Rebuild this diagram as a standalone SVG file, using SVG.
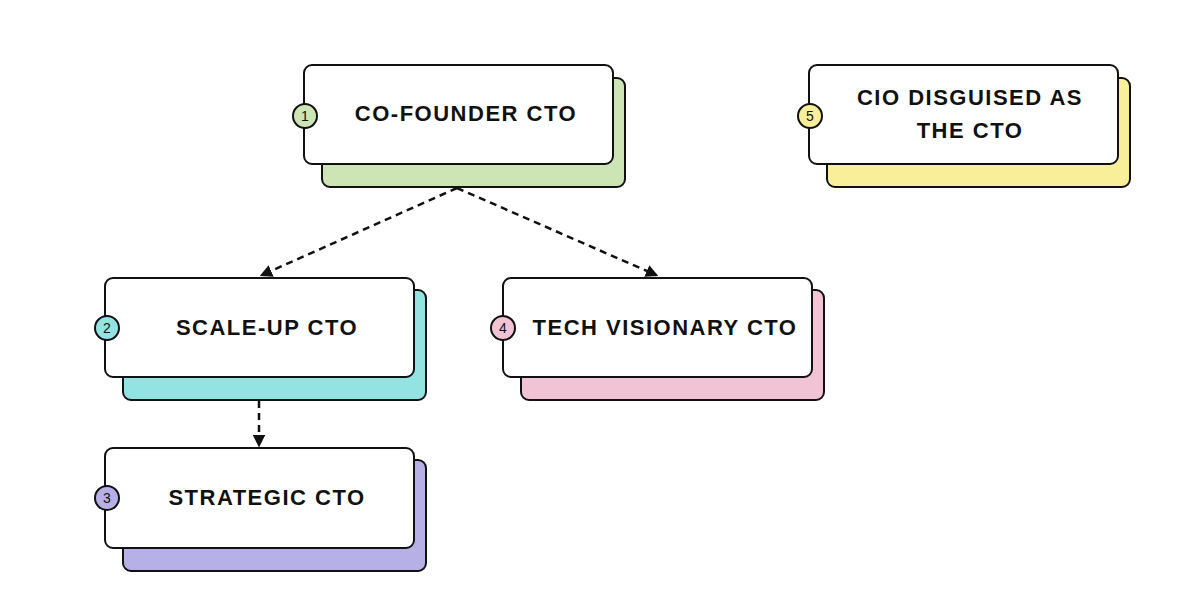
<svg xmlns="http://www.w3.org/2000/svg" width="1200" height="600" viewBox="0 0 1200 600">
<style>
.f{fill:#fff;stroke:#111;stroke-width:2}
.b{stroke:#111;stroke-width:2}
.t{font-family:"Liberation Sans",Arial,sans-serif;font-weight:bold;font-size:22px;letter-spacing:1.5px;fill:#111;text-anchor:middle}
.n{font-family:"Liberation Sans",Arial,sans-serif;font-size:14px;fill:#111;text-anchor:middle}
.c{fill:none;stroke:#111;stroke-width:2.5;stroke-dasharray:7,5}
</style>
<defs><marker id="a" viewBox="0 0 10 10" refX="8" refY="5" markerWidth="5" markerHeight="5" orient="auto"><path d="M0,0L10,5L0,10z" fill="#111"/></marker></defs>
<rect width="1200" height="600" fill="#fff"/>
<g id="connectors">
<path class="c" d="M457,188L262,275" marker-end="url(#a)"/>
<path class="c" d="M457,188L656,275" marker-end="url(#a)"/>
<path class="c" d="M259,401L259,445" marker-end="url(#a)"/>
</g>
<g id="n1"><rect class="b" x="322" y="78" width="303" height="109" rx="8" fill="#cde5b5"/><rect class="f" x="304" y="65" width="309" height="99" rx="8"/><circle class="b" cx="305" cy="116" r="12" fill="#cde5b5"/><text class="n" x="305" y="121">1</text><text class="t" x="466" y="121">CO-FOUNDER CTO</text></g>
<g id="n5"><rect class="b" x="827" y="78" width="303" height="109" rx="8" fill="#f9ef9a"/><rect class="f" x="809" y="65" width="309" height="99" rx="8"/><circle class="b" cx="810" cy="116" r="12" fill="#f9ef9a"/><text class="n" x="810" y="121">5</text><text class="t" x="970" y="105">CIO DISGUISED AS</text><text class="t" x="970" y="138">THE CTO</text></g>
<g id="n2"><rect class="b" x="123" y="290" width="303" height="110" rx="8" fill="#93e3e3"/><rect class="f" x="105" y="278" width="309" height="99" rx="8"/><circle class="b" cx="107" cy="328" r="12" fill="#93e3e3"/><text class="n" x="107" y="333">2</text><text class="t" x="267" y="335">SCALE-UP CTO</text></g>
<g id="n4"><rect class="b" x="521" y="290" width="303" height="110" rx="8" fill="#f1c3d5"/><rect class="f" x="503" y="278" width="309" height="99" rx="8"/><circle class="b" cx="503" cy="328" r="12" fill="#f1c3d5"/><text class="n" x="503" y="333">4</text><text class="t" x="665" y="335">TECH VISIONARY CTO</text></g>
<g id="n3"><rect class="b" x="123" y="460" width="303" height="111" rx="8" fill="#b7b0e6"/><rect class="f" x="105" y="448" width="309" height="100" rx="8"/><circle class="b" cx="107" cy="498" r="12" fill="#b7b0e6"/><text class="n" x="107" y="503">3</text><text class="t" x="267" y="505">STRATEGIC CTO</text></g>
</svg>
